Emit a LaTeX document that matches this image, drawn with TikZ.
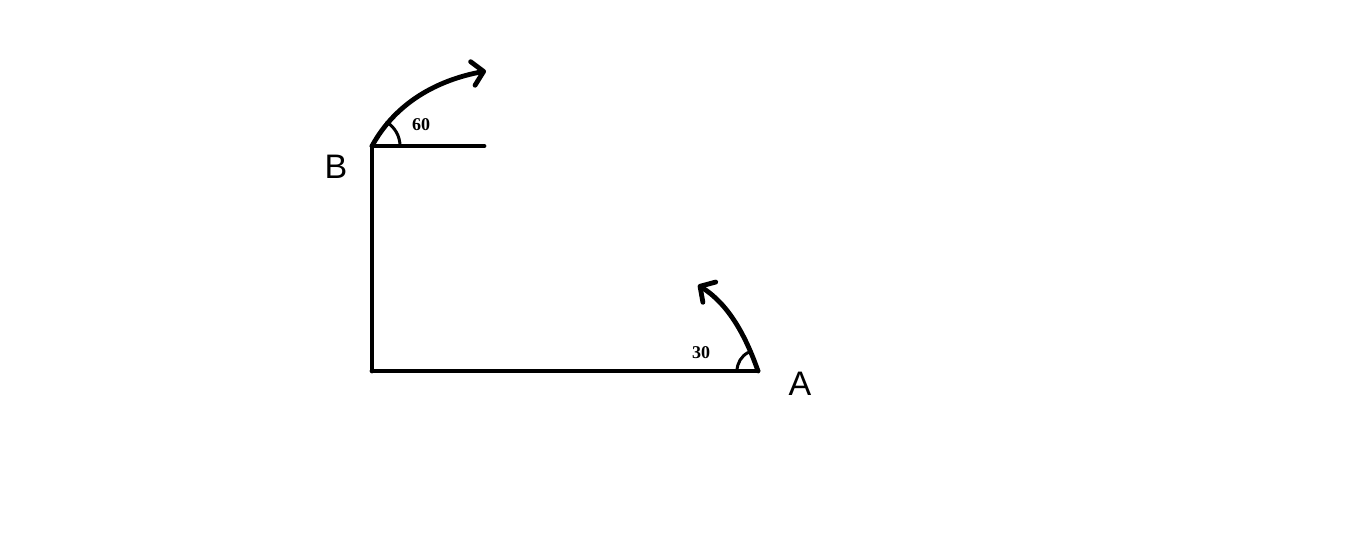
\documentclass[tikz,border=0pt]{standalone}
\usepackage{fontspec}
\setmainfont{Liberation Serif}
\setsansfont{Liberation Sans}
\usetikzlibrary{arrows.meta}
\begin{document}
\begin{tikzpicture}[x=1pt,y=-1pt,
  stroke/.style={line width=4.8pt,line cap=round,line join=round},
  thin stroke/.style={line width=3pt,line cap=round},
  barb/.style={-{Straight Barb[length=11pt,width=24pt,line width=4.8pt,round]}},
  vertex label/.style={font=\sffamily\fontsize{34}{34}\selectfont,inner sep=0pt},
  angle label/.style={font=\bfseries\fontsize{18}{18}\selectfont,inner sep=0pt}]
\useasboundingbox (0,0) rectangle (1349,549);
\fill[white] (0,0) rectangle (1349,549);
\coordinate (O) at (372,371);
\coordinate (A) at (758,371);
\coordinate (B) at (372,146);
\coordinate (H) at (484,146);
\coordinate (BT) at (486,71);
\coordinate (AT) at (698,285);
\draw[stroke] (O) -- (A);
\draw[stroke] (O) -- (B);
\draw[stroke] (B) -- (H);
\draw[stroke,barb] (B) .. controls (396,102) and (438,80) .. (BT);
\draw[stroke,barb] (A) .. controls (745,334) and (728,304) .. (AT);
\draw[thin stroke] (400,146) arc[start angle=0,end angle=-58,radius=28];
\draw[thin stroke] (737,371) arc[start angle=180,end angle=242,radius=21];
\node[vertex label] (lB) at (336,167) {B};
\node[vertex label] (lA) at (800,384) {A};
\node[angle label] (l60) at (421,125) {60};
\node[angle label] (l30) at (701,353) {30};
\end{tikzpicture}
\end{document}
